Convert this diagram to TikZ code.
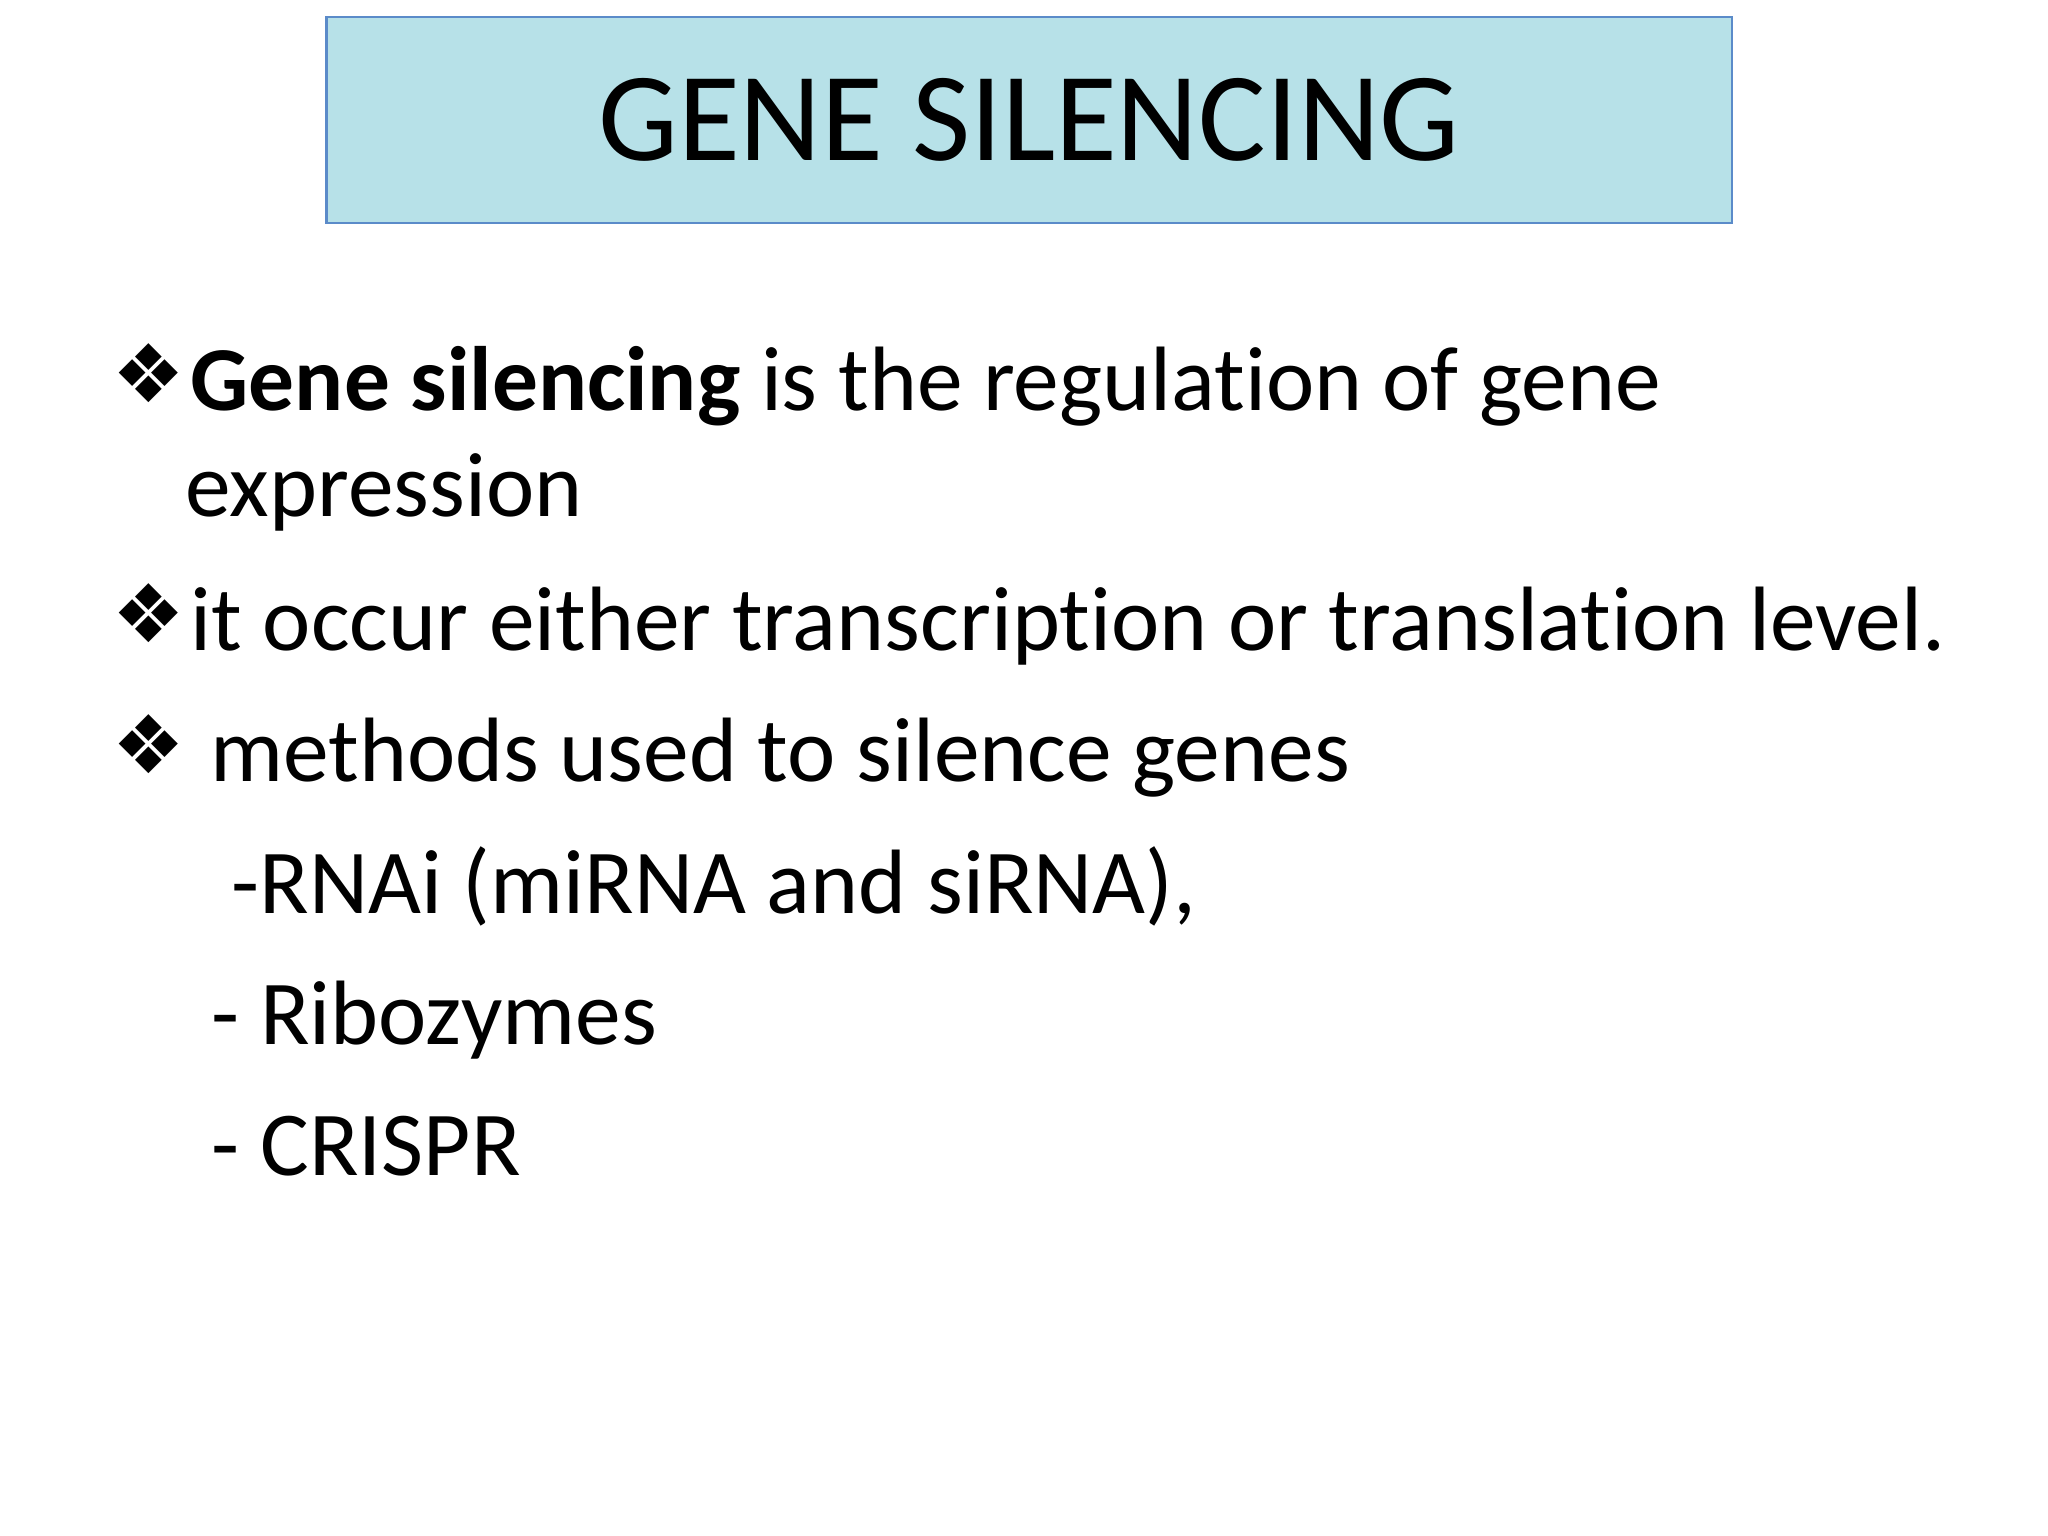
\documentclass[tikz,border=0pt]{standalone}
\usepackage{fontspec}
\setmainfont[Ligatures={NoCommon,NoDiscretionary}]{Carlito}
\newfontfamily\symfont{DejaVu Sans}
\definecolor{boxfill}{HTML}{B7E1E8}
\definecolor{boxline}{HTML}{5B8BC9}
\begin{document}
\begin{tikzpicture}[x=0.01cm,y=-0.01cm,
  body/.style={anchor=base west,inner sep=0pt,font=\fontsize{26}{31}\selectfont},
  bul/.style={anchor=base west,inner sep=0pt,font=\symfont\fontsize{23}{26}\selectfont}]
\useasboundingbox (0,0) rectangle (2048,1536);
\node[draw=boxline,fill=boxfill,line width=0.8pt,minimum width=14.05cm,minimum height=2.06cm,inner sep=0pt,
  font=\fontsize{36}{43}\selectfont] (title) at (1029,120) {GENE SILENCING};
\node[bul] (b1) at (112,402) {❖};
\node[body] (t1) at (190,410) {\textbf{Gene silencing} is the regulation of gene};
\node[body] (t1b) at (185,516) {expression};
\node[bul] (b2) at (112,642) {❖};
\node[body] (t2) at (190,650) {it occur either transcription or translation level.};
\node[bul] (b3) at (112,773) {❖};
\node[body] (t3) at (210,781) {methods used to silence genes};
\node[body] (t4) at (231,913) {-RNAi (miRNA and siRNA),};
\node[body] (t5) at (211,1044) {- Ribozymes};
\node[body] (t6) at (211,1175) {- CRISPR};
\end{tikzpicture}
\end{document}
